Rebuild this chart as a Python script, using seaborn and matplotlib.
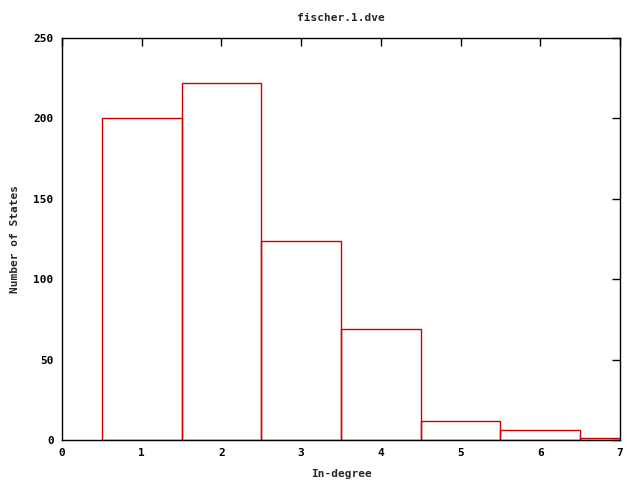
import matplotlib
matplotlib.use("Agg")
import matplotlib.pyplot as plt
import seaborn as sns

# in-degree histogram values
in_degree = [1, 2, 3, 4, 5, 6, 7]
num_states = [200, 222, 124, 69, 12, 6, 1]

sns.set_style("white")
plt.rcParams['font.family'] = ['DejaVu Sans Mono']
plt.rcParams['font.weight'] = 'bold'

fig = plt.figure(figsize=(6.4, 4.8), dpi=100)
ax = fig.add_axes([62 / 640, 40 / 480, 558 / 640, 402 / 480])

sns.histplot(x=in_degree, weights=num_states, discrete=True, fill=False,
             color="#cc0000", linewidth=1.0, element="bars", ax=ax)

ax.set_xlim(0, 7)
ax.set_ylim(0, 250)
ax.set_xticks(range(0, 8))
ax.set_yticks(range(0, 251, 50))
ax.tick_params(direction="in", length=6, width=1, top=True, right=True,
               labelsize=8, colors="black", pad=6)
for s in ax.spines.values():
    s.set_color("black")
    s.set_linewidth(1)

ax.set_title("fischer.1.dve", fontsize=8, fontweight="bold", pad=12)
ax.set_xlabel("In-degree", fontsize=8, fontweight="bold", labelpad=8)
ax.set_ylabel("Number of States", fontsize=8, fontweight="bold", labelpad=10)

fig.savefig("out.png", dpi=100)
